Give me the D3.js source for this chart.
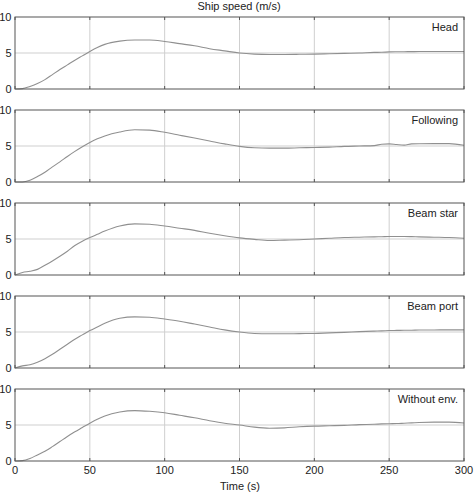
<!DOCTYPE html>
<html>
<head>
<meta charset="utf-8">
<script src="https://cdn.jsdelivr.net/npm/d3@7"></script>
<style>
  body { margin: 0; background: #fff; }
  text { font-family: "Liberation Sans", Arial, sans-serif; }
</style>
</head>
<body>
<div id="chart"></div>
<script>
// data
const times = [0,5,10,15,20,25,30,35,40,45,50,55,60,70,80,90,100,110,120,130,140,150,160,170,180,190,200,210,220,230,240,245,250,255,260,265,270,280,290,300];

const head      = [0,0.05,0.35,0.75,1.3,2.0,2.7,3.35,4.0,4.6,5.2,5.75,6.2,6.65,6.8,6.8,6.6,6.3,6.0,5.6,5.3,5.0,4.85,4.8,4.8,4.82,4.85,4.9,4.95,5.0,5.08,5.1,5.15,5.17,5.18,5.19,5.2,5.2,5.2,5.2];
const following = [0,0,0.25,0.75,1.35,2.1,2.8,3.55,4.25,4.9,5.5,6.0,6.4,6.95,7.25,7.2,6.9,6.5,6.1,5.7,5.3,4.95,4.75,4.7,4.7,4.75,4.8,4.85,4.95,5.0,5.05,5.25,5.3,5.2,5.12,5.3,5.32,5.33,5.33,5.1];
const beamStar  = [0,0.35,0.52,0.78,1.35,1.95,2.6,3.3,4.1,4.7,5.2,5.65,6.1,6.8,7.1,7.05,6.8,6.5,6.2,5.8,5.45,5.15,4.95,4.8,4.85,4.9,5.0,5.1,5.2,5.25,5.3,5.32,5.35,5.35,5.35,5.33,5.3,5.25,5.2,5.1];
const beamPort  = [0,0.3,0.45,0.8,1.3,1.9,2.6,3.3,4.0,4.6,5.2,5.7,6.2,6.9,7.1,7.05,6.8,6.5,6.1,5.7,5.3,5.0,4.8,4.75,4.75,4.78,4.8,4.88,4.95,5.05,5.12,5.15,5.2,5.22,5.24,5.25,5.27,5.28,5.3,5.3];
const withoutEnv= [0,0.05,0.35,0.85,1.35,2.0,2.7,3.4,4.05,4.65,5.25,5.8,6.25,6.8,7.0,6.9,6.7,6.35,6.0,5.6,5.25,5.0,4.7,4.55,4.6,4.75,4.85,4.9,4.95,5.05,5.1,5.15,5.18,5.2,5.25,5.3,5.35,5.4,5.4,5.28];

const labels = ["Head", "Following", "Beam star", "Beam port", "Without env."];
const series = [head, following, beamStar, beamPort, withoutEnv];
const xTicks = [0,50,100,150,200,250,300];
const yTicks = [0,5,10];

const width = 474, height = 494;
const left = 15, right = 464;
const panelTop = 17, panelH = 72, panelGap = 93;

const svg = d3.select("#chart")
  .append("svg")
  .attr("width", width)
  .attr("height", height);

const x = d3.scaleLinear().domain([0, 300]).range([left, right]);

svg.append("text")
  .attr("x", 239).attr("y", 10)
  .attr("text-anchor", "middle")
  .attr("font-size", 11)
  .attr("fill", "#222")
  .text("Ship speed (m/s)");

series.forEach((vals, i) => {
  const top = panelTop + i * panelGap;
  const y = d3.scaleLinear().domain([0, 10]).range([top + panelH, top]);
  const g = svg.append("g");

  // grid
  g.selectAll(".vg")
    .data(xTicks.slice(1, -1))
    .join("line")
    .attr("x1", d => x(d)).attr("x2", d => x(d))
    .attr("y1", top).attr("y2", top + panelH)
    .attr("stroke", "#cfcfcf").attr("stroke-width", 1);
  g.append("line")
    .attr("x1", left).attr("x2", right)
    .attr("y1", y(5)).attr("y2", y(5))
    .attr("stroke", "#cfcfcf").attr("stroke-width", 1);

  // inner ticks
  g.selectAll(".tb")
    .data(xTicks)
    .join("line")
    .attr("x1", d => x(d)).attr("x2", d => x(d))
    .attr("y1", top + panelH).attr("y2", top + panelH - 3)
    .attr("stroke", "#555");
  g.selectAll(".tt")
    .data(xTicks)
    .join("line")
    .attr("x1", d => x(d)).attr("x2", d => x(d))
    .attr("y1", top).attr("y2", top + 3)
    .attr("stroke", "#555");

  // curve
  const line = d3.line()
    .x((d, j) => x(times[j]))
    .y(d => y(d))
    .curve(d3.curveMonotoneX);
  g.append("path")
    .datum(vals)
    .attr("d", line)
    .attr("fill", "none")
    .attr("stroke", "#909090")
    .attr("stroke-width", 1.1);

  // frame
  g.append("rect")
    .attr("x", left).attr("y", top)
    .attr("width", right - left).attr("height", panelH)
    .attr("fill", "none")
    .attr("stroke", "#555").attr("stroke-width", 1);

  // y labels
  g.selectAll(".yl")
    .data(yTicks)
    .join("text")
    .attr("x", 11.5)
    .attr("y", d => y(d) + 4)
    .attr("text-anchor", "end")
    .attr("font-size", 11)
    .attr("fill", "#222")
    .text(d => d);

  g.append("text")
    .attr("x", 458).attr("y", top + 14)
    .attr("text-anchor", "end")
    .attr("font-size", 11)
    .attr("fill", "#222")
    .text(labels[i]);
});

const bottom = panelTop + 4 * panelGap + panelH;
svg.selectAll(".xl")
  .data(xTicks)
  .join("text")
  .attr("x", d => x(d))
  .attr("y", bottom + 13)
  .attr("text-anchor", "middle")
  .attr("font-size", 11)
  .attr("fill", "#222")
  .text(d => d);

svg.append("text")
  .attr("x", 240).attr("y", bottom + 29)
  .attr("text-anchor", "middle")
  .attr("font-size", 11)
  .attr("fill", "#222")
  .text("Time (s)");
</script>
</body>
</html>
